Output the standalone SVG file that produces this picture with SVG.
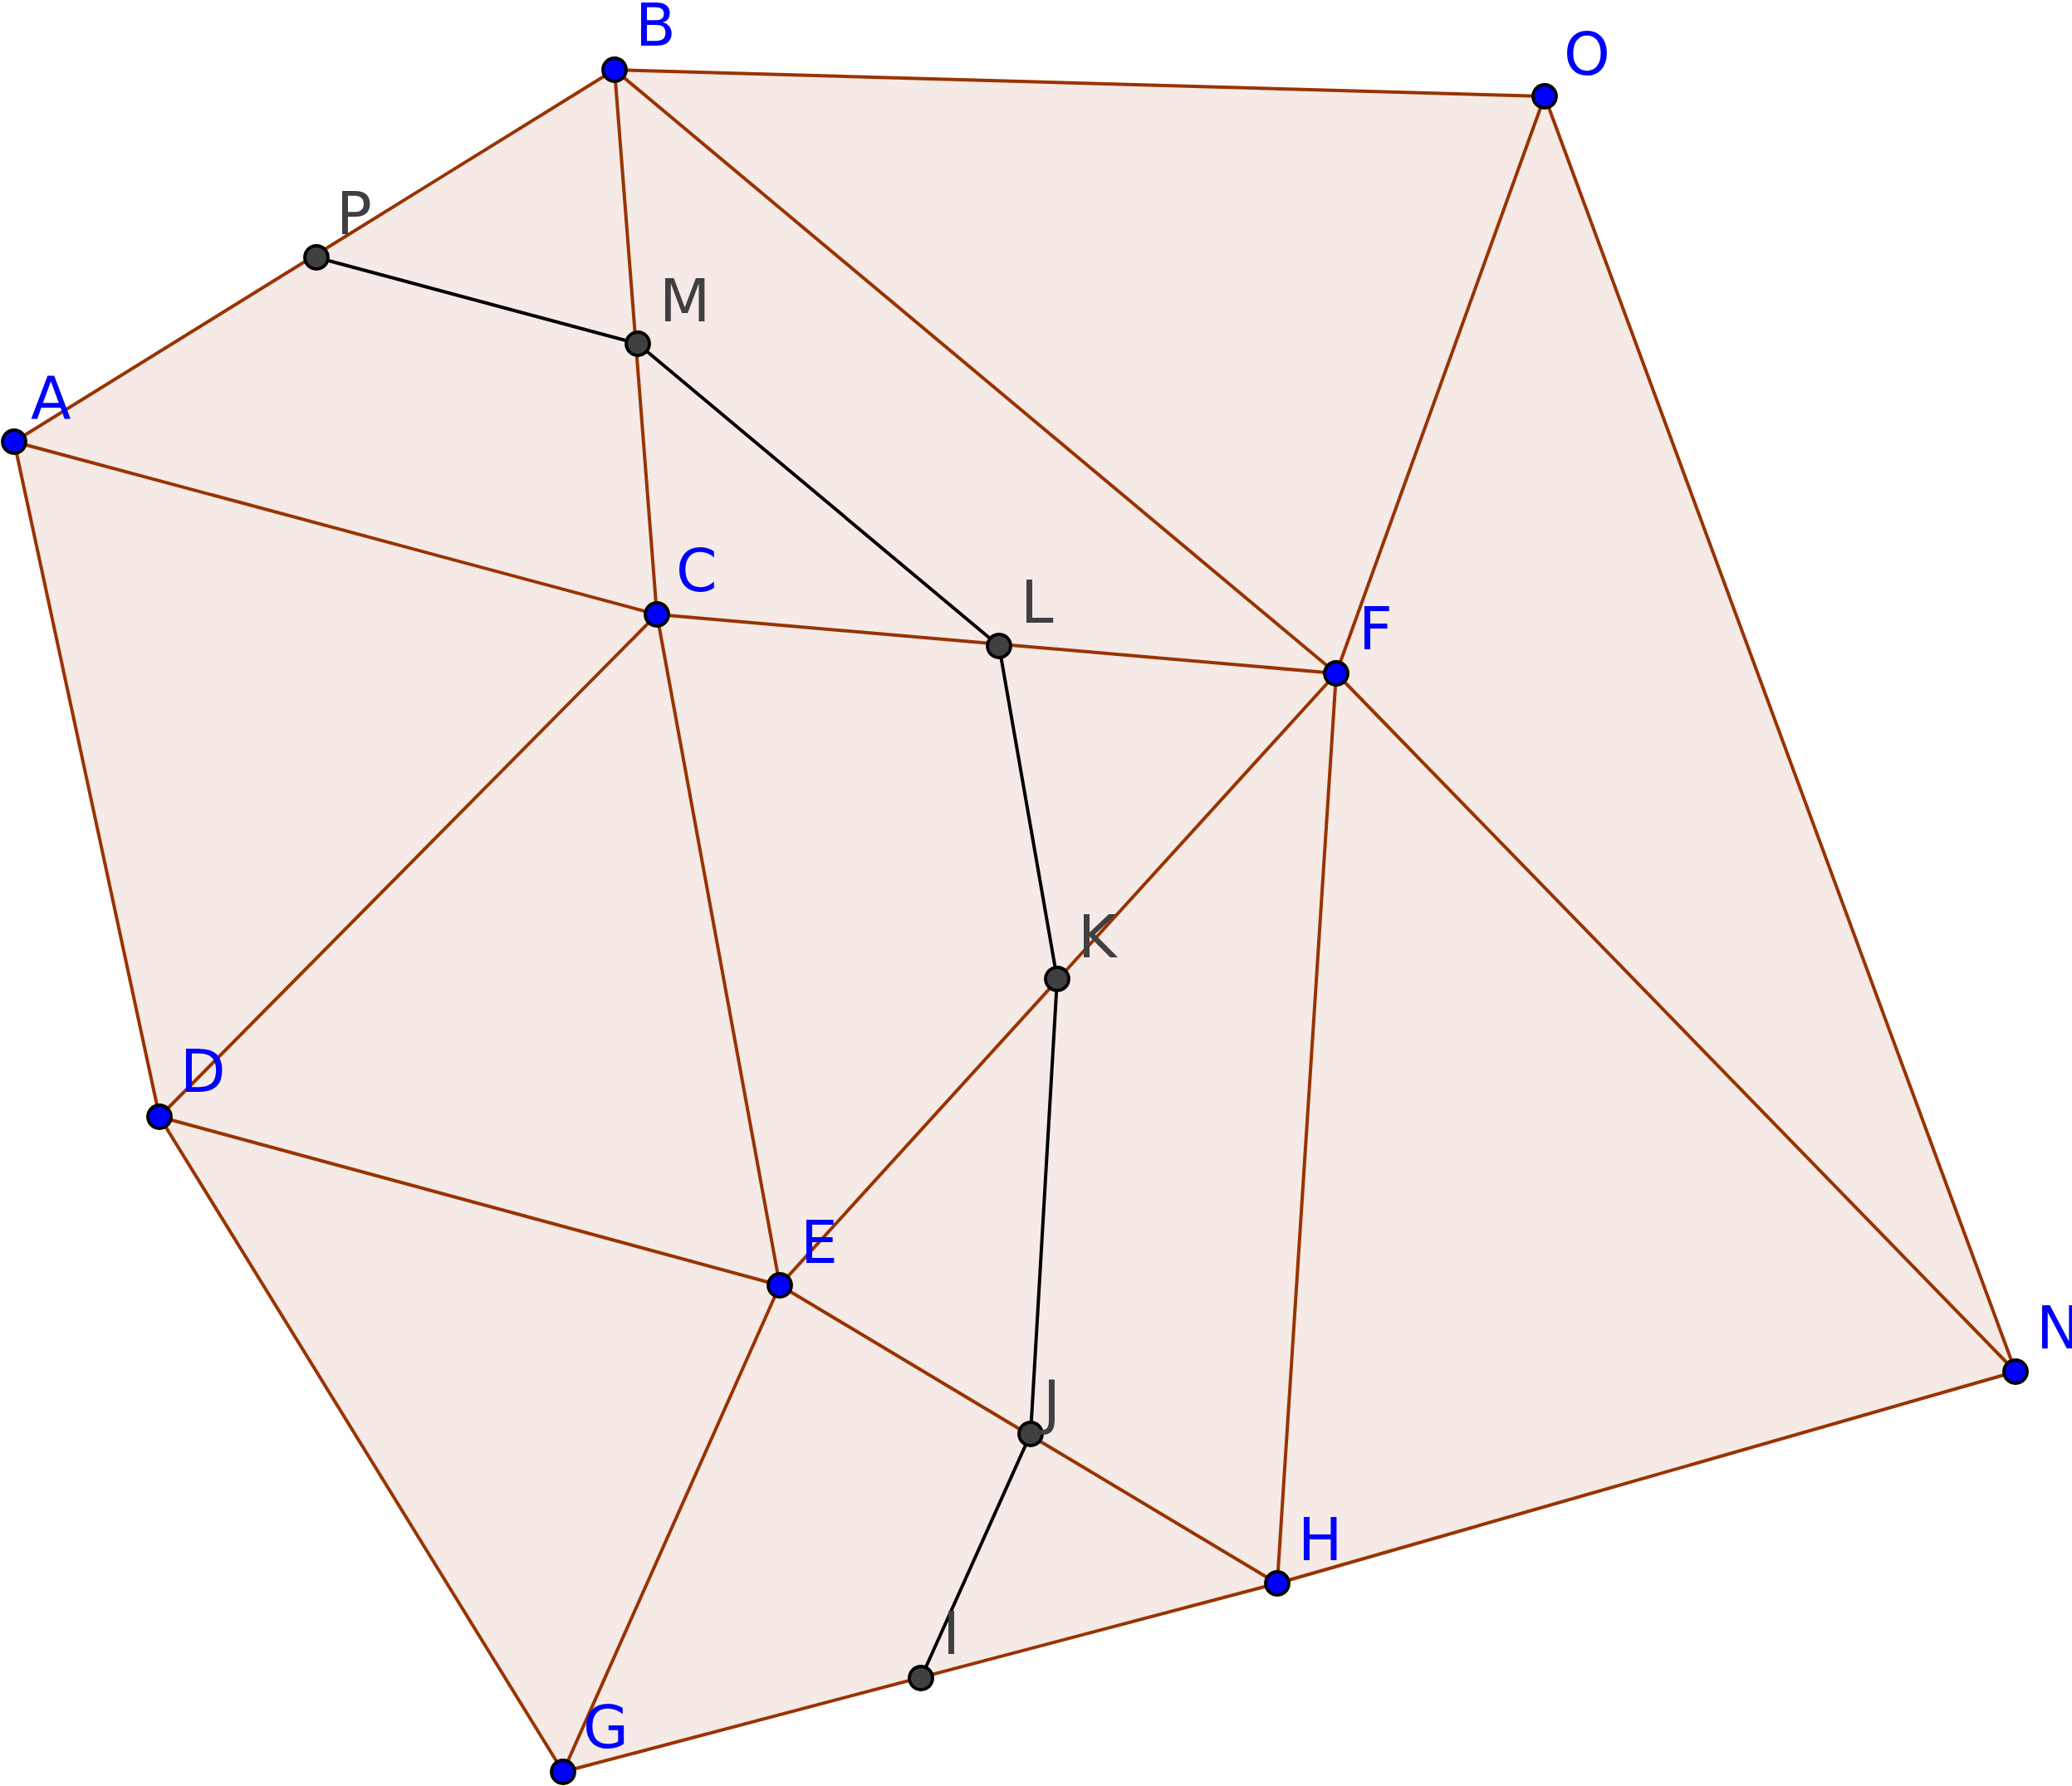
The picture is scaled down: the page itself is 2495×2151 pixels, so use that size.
<svg xmlns="http://www.w3.org/2000/svg" width="2495" height="2151" viewBox="0 0 2495 2151">
<style>
.e{stroke:#993300;stroke-width:4;fill:none;stroke-linecap:round}
.k{stroke:#000;stroke-width:4;fill:none;stroke-linecap:round}
.pb{fill:#0000FF;stroke:#000;stroke-width:3.8}
.pg{fill:#404040;stroke:#000;stroke-width:3.8}
.tb{font-family:"DejaVu Sans",sans-serif;font-size:71px;fill:#0000FF}
.tg{font-family:"DejaVu Sans",sans-serif;font-size:71px;fill:#404040}
</style>
<rect width="2495" height="2151" fill="#fff"/>
<polygon points="17,532 740,84 1860,116 2427,1652 1538,1907 678,2134 192,1345" fill="#993300" fill-opacity="0.1"/>
<g id="connectors">
<line class="e" x1="17" y1="532" x2="740" y2="84"/>
<line class="e" x1="740" y1="84" x2="1860" y2="116"/>
<line class="e" x1="1860" y1="116" x2="2427" y2="1652"/>
<line class="e" x1="2427" y1="1652" x2="1538" y2="1907"/>
<line class="e" x1="1538" y1="1907" x2="678" y2="2134"/>
<line class="e" x1="678" y1="2134" x2="192" y2="1345"/>
<line class="e" x1="192" y1="1345" x2="17" y2="532"/>
<line class="e" x1="17" y1="532" x2="791" y2="740"/>
<line class="e" x1="740" y1="84" x2="791" y2="740"/>
<line class="e" x1="740" y1="84" x2="1609" y2="811"/>
<line class="e" x1="1860" y1="116" x2="1609" y2="811"/>
<line class="e" x1="791" y1="740" x2="1609" y2="811"/>
<line class="e" x1="791" y1="740" x2="192" y2="1345"/>
<line class="e" x1="791" y1="740" x2="939" y2="1548"/>
<line class="e" x1="192" y1="1345" x2="939" y2="1548"/>
<line class="e" x1="939" y1="1548" x2="1609" y2="811"/>
<line class="e" x1="939" y1="1548" x2="1538" y2="1907"/>
<line class="e" x1="939" y1="1548" x2="678" y2="2134"/>
<line class="e" x1="1609" y1="811" x2="1538" y2="1907"/>
<line class="e" x1="1609" y1="811" x2="2427" y2="1652"/>
<line class="k" x1="381" y1="310" x2="768" y2="414"/>
<line class="k" x1="768" y1="414" x2="1203" y2="778"/>
<line class="k" x1="1203" y1="778" x2="1273" y2="1179"/>
<line class="k" x1="1273" y1="1179" x2="1241" y2="1727"/>
<line class="k" x1="1241" y1="1727" x2="1109" y2="2021"/>
</g>
<g id="P"><circle class="pg" cx="381" cy="310" r="14"/><text class="tg" x="405" y="282">P</text></g>
<g id="M"><circle class="pg" cx="768" cy="414" r="14"/><text class="tg" x="794" y="387">M</text></g>
<g id="L"><circle class="pg" cx="1203" cy="778" r="14"/><text class="tg" x="1229" y="750">L</text></g>
<g id="K"><circle class="pg" cx="1273" cy="1179" r="14"/><text class="tg" x="1298" y="1153">K</text></g>
<g id="J"><circle class="pg" cx="1241" cy="1727" r="14"/><text class="tg" x="1256" y="1714">J</text></g>
<g id="I"><circle class="pg" cx="1109" cy="2021" r="14"/><text class="tg" x="1135" y="1992">I</text></g>
<g id="A"><circle class="pb" cx="17" cy="532" r="14"/><text class="tb" x="37" y="504">A</text></g>
<g id="B"><circle class="pb" cx="740" cy="84" r="14"/><text class="tb" x="765" y="55">B</text></g>
<g id="O"><circle class="pb" cx="1860" cy="116" r="14"/><text class="tb" x="1883" y="90">O</text></g>
<g id="C"><circle class="pb" cx="791" cy="740" r="14"/><text class="tb" x="814" y="712">C</text></g>
<g id="F"><circle class="pb" cx="1609" cy="811" r="14"/><text class="tb" x="1636" y="782">F</text></g>
<g id="D"><circle class="pb" cx="192" cy="1345" r="14"/><text class="tb" x="217" y="1315">D</text></g>
<g id="E"><circle class="pb" cx="939" cy="1548" r="14"/><text class="tb" x="964" y="1521">E</text></g>
<g id="H"><circle class="pb" cx="1538" cy="1907" r="14"/><text class="tb" x="1563" y="1879">H</text></g>
<g id="G"><circle class="pb" cx="678" cy="2134" r="14"/><text class="tb" x="702" y="2105">G</text></g>
<g id="N"><circle class="pb" cx="2427" cy="1652" r="14"/><text class="tb" x="2452" y="1624">N</text></g>
</svg>
